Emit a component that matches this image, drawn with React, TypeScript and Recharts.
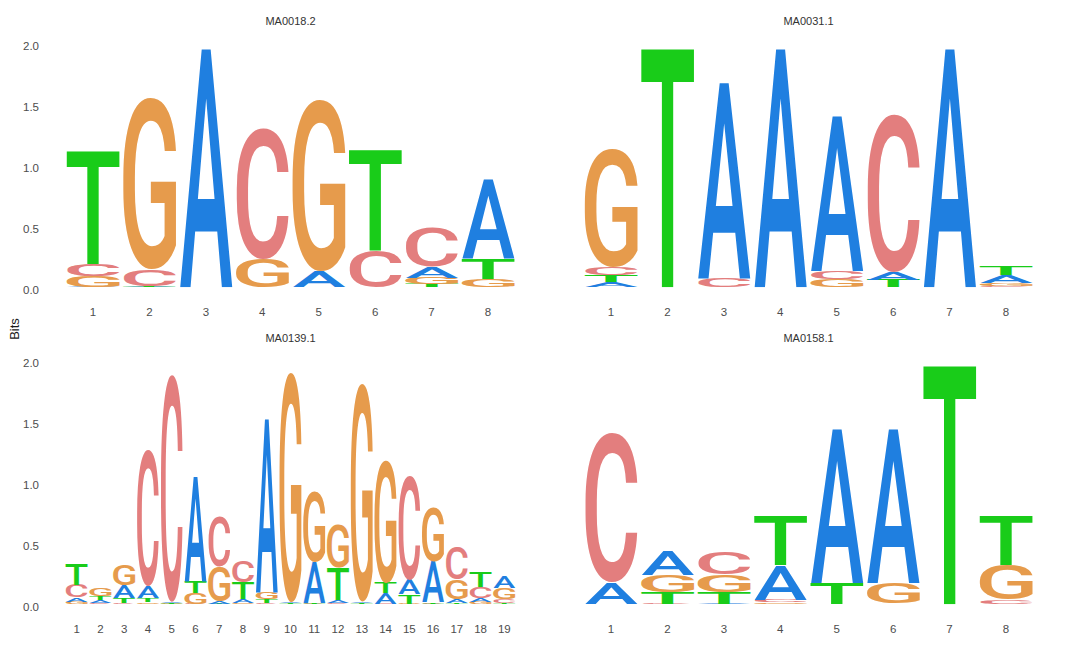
import React from 'react';
import { BarChart, Bar, XAxis, YAxis } from 'recharts';

// ---------- data ----------
const titles = ['MA0018.2', 'MA0031.1', 'MA0139.1', 'MA0158.1'];
const yTicks = [0, 0.5, 1, 1.5, 2];

// MA0018.2
const m1Pos = [1, 2, 3, 4, 5, 6, 7, 8];
const m1A = [0.005, 0.005, 1.98, 0.0, 0.135, 0.0, 0.09, 0.655];
const m1C = [0.1, 0.135, 0.0, 1.065, 0.0, 0.3, 0.32, 0.0];
const m1G = [0.09, 1.4, 0.0, 0.235, 1.4, 0.0, 0.05, 0.07];
const m1T = [0.93, 0.005, 0.0, 0.0, 0.0, 0.83, 0.03, 0.165];

// MA0031.1
const m2Pos = [1, 2, 3, 4, 5, 6, 7, 8];
const m2A = [0.046, 0.0, 1.625, 1.98, 1.28, 0.065, 1.98, 0.07];
const m2C = [0.068, 0.0, 0.073, 0.0, 0.07, 1.29, 0.0, 0.012];
const m2G = [0.97, 0.0, 0.0, 0.0, 0.065, 0.0, 0.0, 0.02];
const m2T = [0.054, 1.98, 0.0, 0.0, 0.0, 0.062, 0.0, 0.075];

// MA0139.1
const m3Pos = [1, 2, 3, 4, 5, 6, 7, 8, 9, 10, 11, 12, 13, 14, 15, 16, 17, 18, 19];
const m3A = [0.035, 0.02, 0.11, 0.1, 0.01, 0.865, 0.02, 0.03, 1.44, 0.01, 0.34, 0.025, 0.015, 0.085, 0.115, 0.335, 0.035, 0.03, 0.095];
const m3C = [0.105, 0.012, 0.01, 1.11, 1.86, 0.005, 0.413, 0.178, 0.01, 0.003, 0.005, 0.01, 0.003, 0.005, 0.855, 0.005, 0.265, 0.09, 0.035];
const m3G = [0.02, 0.07, 0.165, 0.015, 0.005, 0.09, 0.285, 0.012, 0.05, 1.88, 0.58, 0.355, 1.785, 1.005, 0.005, 0.447, 0.16, 0.02, 0.085];
const m3T = [0.175, 0.033, 0.04, 0.035, 0.005, 0.095, 0.005, 0.14, 0.03, 0.005, 0.005, 0.265, 0.005, 0.09, 0.08, 0.012, 0.01, 0.115, 0.01];

// MA0158.1
const m4Pos = [1, 2, 3, 4, 5, 6, 7, 8];
const m4A = [0.18, 0.195, 0.005, 0.29, 1.275, 1.275, 0.0, 0.003];
const m4C = [1.23, 0.005, 0.19, 0.02, 0.003, 0.003, 0.0, 0.035];
const m4G = [0.003, 0.14, 0.146, 0.015, 0.003, 0.17, 0.0, 0.285];
const m4T = [0.003, 0.095, 0.098, 0.405, 0.17, 0.003, 1.98, 0.41];

// ---------- styling ----------
const COLORS: Record<string, string> = { A: '#1F7FE0', C: '#E37E7E', G: '#E69B4C', T: '#19CC19' };
const LETTER_FONT = 'Roboto';
const LETTER_WEIGHT = 500;
const TEXT_FONT = '"Liberation Sans", Arial, sans-serif';

type Row = Record<string, string | number>;

function buildData(pos: number[], A: number[], C: number[], G: number[], T: number[]): Row[] {
  return pos.map((p, i) => {
    const items = [
      { l: 'A', v: A[i] },
      { l: 'C', v: C[i] },
      { l: 'G', v: G[i] },
      { l: 'T', v: T[i] },
    ].sort((a, b) => a.v - b.v);
    const row: Row = { pos: String(p) };
    items.forEach((it, k) => {
      row['r' + k] = it.v;
      row['l' + k] = it.l;
    });
    return row;
  });
}

const data1 = buildData(m1Pos, m1A, m1C, m1G, m1T);
const data2 = buildData(m2Pos, m2A, m2C, m2G, m2T);
const data3 = buildData(m3Pos, m3A, m3C, m3G, m3T);
const data4 = buildData(m4Pos, m4A, m4C, m4G, m4T);

// ink metrics of each glyph (so the glyph fills its bar rectangle exactly)
const metricCache: Record<string, { l: number; r: number; t: number; b: number }> = {};
function glyphMetrics(ch: string) {
  if (metricCache[ch]) return metricCache[ch];
  let m = { l: 0, r: 62, t: -71, b: 0 };
  try {
    const ctx = document.createElement('canvas').getContext('2d');
    if (ctx) {
      ctx.font = `${LETTER_WEIGHT} 100px ${LETTER_FONT}`;
      const tm = ctx.measureText(ch);
      const l = -tm.actualBoundingBoxLeft;
      const r = tm.actualBoundingBoxRight;
      const t = -tm.actualBoundingBoxAscent;
      const b = tm.actualBoundingBoxDescent;
      if (r - l > 1 && b - t > 1) m = { l, r, t, b };
    }
  } catch (e) {
    // keep fallback
  }
  metricCache[ch] = m;
  return m;
}

const makeShape = (k: number) => (props: any) => {
  const { x, y, width, height, payload } = props;
  if (!(height > 0.05) || !(width > 0) || !payload) return <g />;
  const letter = String(payload['l' + k]);
  const m = glyphMetrics(letter);
  const sx = width / (m.r - m.l);
  const sy = height / (m.b - m.t);
  return (
    <text
      x={0}
      y={0}
      fontSize={100}
      fontFamily={LETTER_FONT}
      fontWeight={LETTER_WEIGHT}
      fill={COLORS[letter]}
      transform={`translate(${x} ${y}) scale(${sx} ${sy}) translate(${-m.l} ${-m.t})`}
    >
      {letter}
    </text>
  );
};
const shapes = [0, 1, 2, 3].map(makeShape);

const PLOT_BOTTOM = 287.3;

const XTick = (props: any) => {
  const { x, payload } = props;
  return (
    <text x={x} y={PLOT_BOTTOM + 28.4} textAnchor="middle" fontSize={11.5} fontFamily={TEXT_FONT} fill="#4D4D4D">
      {payload.value}
    </text>
  );
};

const YTick = (props: any) => {
  const { y, payload } = props;
  return (
    <text x={39} y={y + 2.3 + 4.1} textAnchor="end" fontSize={11.5} fontFamily={TEXT_FONT} fill="#4D4D4D">
      {Number(payload.value).toFixed(1)}
    </text>
  );
};

function Panel({ data, left, top, showY }: { data: Row[]; left: number; top: number; showY: boolean }) {
  const margin = showY
    ? { top: 44, right: 23.8, bottom: 7.7, left: 24.8 }
    : { top: 44, right: 45.8, bottom: 7.7, left: 42.8 };
  return (
    <div style={{ position: 'absolute', left, top, width: 540, height: 325 }}>
      <BarChart width={540} height={325} data={data} margin={margin} barCategoryGap="3.4%">
        <XAxis dataKey="pos" axisLine={false} tickLine={false} height={30} interval={0} tick={XTick} />
        <YAxis
          hide={!showY}
          width={40}
          type="number"
          domain={[0, 2]}
          ticks={yTicks}
          allowDataOverflow
          axisLine={false}
          tickLine={false}
          tick={YTick}
        />
        {[0, 1, 2, 3].map((k) => (
          <Bar key={k} dataKey={'r' + k} stackId="s" isAnimationActive={false} shape={shapes[k]} />
        ))}
      </BarChart>
    </div>
  );
}

export default function App() {
  return (
    <div style={{ position: 'absolute', left: 0, top: 0, width: 1080, height: 660, background: '#FFFFFF' }}>
      <Panel data={data1} left={0} top={0} showY />
      <Panel data={data2} left={540} top={0} showY={false} />
      <Panel data={data3} left={0} top={317} showY />
      <Panel data={data4} left={540} top={317} showY={false} />
      <svg width={1080} height={660} style={{ position: 'absolute', left: 0, top: 0, pointerEvents: 'none' }}>
        <g fontFamily={TEXT_FONT} fontSize={11} fill="#333333" textAnchor="middle">
          <text x={290.5} y={24.6}>{titles[0]}</text>
          <text x={808.5} y={24.6}>{titles[1]}</text>
          <text x={290.5} y={341.6}>{titles[2]}</text>
          <text x={808.5} y={341.6}>{titles[3]}</text>
        </g>
        <text
          x={0}
          y={0}
          transform="translate(18.5 329) rotate(-90)"
          textAnchor="middle"
          fontFamily={TEXT_FONT}
          fontSize={13}
          fill="#1A1A1A"
        >
          Bits
        </text>
      </svg>
    </div>
  );
}
